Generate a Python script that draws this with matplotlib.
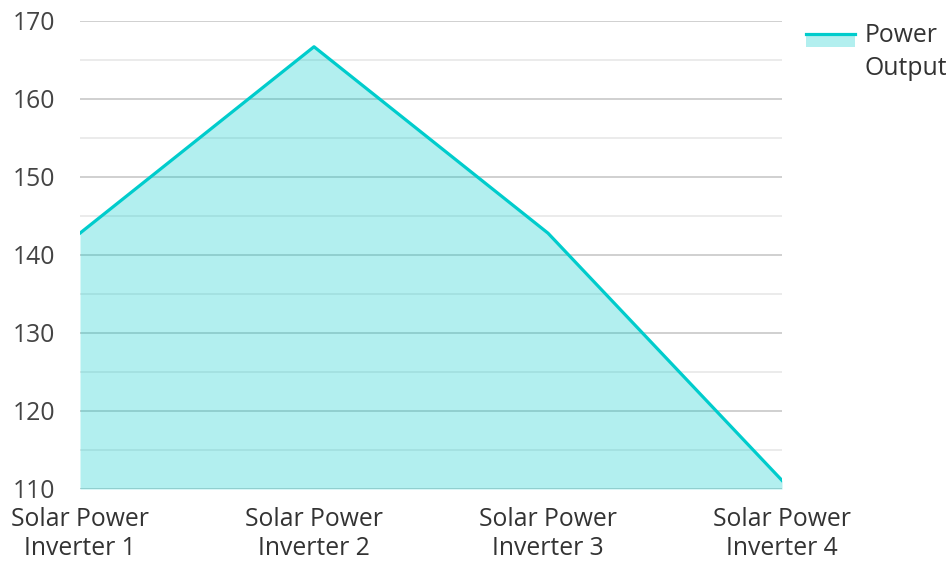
import matplotlib.pyplot as plt
from matplotlib.legend_handler import HandlerBase
from matplotlib.patches import Rectangle
from matplotlib.lines import Line2D

plt.rcParams['font.family'] = ['Open Sans', 'DejaVu Sans']

categories = ['Solar Power\nInverter 1', 'Solar Power\nInverter 2',
              'Solar Power\nInverter 3', 'Solar Power\nInverter 4']
power_output = [142.8, 166.7, 142.8, 111.1]
series_name = 'Power\nOutput'

line_color = '#00cccc'
text_color = '#333333'
fs = 17.8


class AreaHandler(HandlerBase):
    # filled box with the line along its top edge
    def create_artists(self, legend, orig_handle, xdescent, ydescent,
                       width, height, fontsize, trans):
        top = height + 7
        rect = Rectangle((-xdescent, top - 9), width, 9,
                         facecolor=line_color, alpha=0.3, edgecolor='none',
                         transform=trans)
        ln = Line2D([-xdescent, -xdescent + width], [top, top],
                    color=line_color, lw=2.3, transform=trans)
        return [rect, ln]


fig = plt.figure(figsize=(9.52, 5.61), dpi=100)
ax = fig.add_axes([80 / 952, 1 - 489 / 561, 702 / 952, 468 / 561])

x = list(range(len(categories)))
ax.fill_between(x, power_output, 110, color=line_color, alpha=0.3,
                linewidth=0, zorder=2)
line, = ax.plot(x, power_output, color=line_color, lw=2.3, zorder=3)

ax.set_xlim(0, len(categories) - 1)
ax.set_ylim(110, 170)
ax.set_yticks(range(110, 171, 10))
ax.set_yticks(range(115, 170, 10), minor=True)
ax.set_xticks(x)
ax.set_xticklabels(categories)

ax.grid(axis='y', which='major', color='#c8c8c8', lw=1.2, zorder=1)
ax.grid(axis='y', which='minor', color='#e8e8e8', lw=1.2, zorder=1)
ax.set_axisbelow(True)

for s in ax.spines.values():
    s.set_visible(False)

ax.tick_params(axis='y', which='both', length=0, pad=18, labelsize=fs,
               labelcolor='#444444')
ax.tick_params(axis='x', length=0, pad=13, labelsize=fs,
               labelcolor=text_color)
for lab in ax.get_xticklabels():
    lab.set_linespacing(1.22)

leg = fig.legend([line], [series_name], handler_map={Line2D: AreaHandler()},
                 loc='upper left', bbox_to_anchor=(806 / 952, 1 - 23 / 561),
                 frameon=False, fontsize=fs, labelcolor=text_color,
                 handlelength=2.0, handletextpad=0.38, borderaxespad=0,
                 borderpad=0)
for t in leg.get_texts():
    t.set_linespacing(1.4)

fig.savefig('out.png', dpi=100)
